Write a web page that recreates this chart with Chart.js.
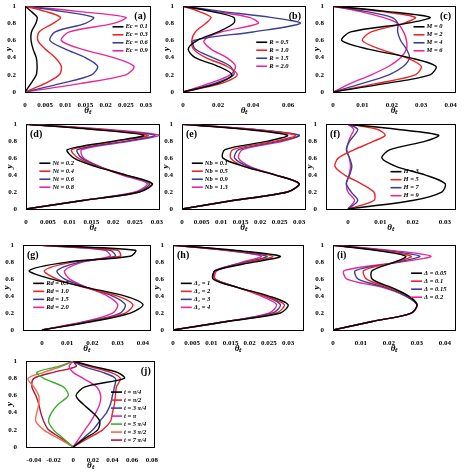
<!DOCTYPE html>
<html>
<head>
<meta charset="utf-8">
<script src="https://cdn.jsdelivr.net/npm/chart.js@4.4.0/dist/chart.umd.min.js"></script>
<style>
  body { margin: 0; background: #fff; }
  #wrap { position: relative; width: 474px; height: 474px; }
  .p { position: absolute; }
</style>
</head>
<body>
<div id="wrap"></div>
<script>
// shared y levels of every profile
const yLevels = [0, 0.1, 0.2, 0.3, 0.4, 0.5, 0.6, 0.7, 0.8, 0.87, 0.94, 1];
const col4 = ['#000000', '#e8262a', '#3b3f94', '#e8279a'];
const col7 = ['#000000', '#e8262a', '#3b3f94', '#e8279a', '#3dae2b', '#f46a4e', '#b0163c'];

// (a) Ec
const ecLabels = ['Ec = 0.1', 'Ec = 0.3', 'Ec = 0.6', 'Ec = 0.9'];
const ecVals = [
  [0, 0.0015, 0.0028, 0.003, 0.0028, 0.002, 0.0015, 0.0016, 0.0027, 0.003, 0.0015, 0],
  [0, 0.005, 0.0085, 0.009, 0.0075, 0.005, 0.0032, 0.0035, 0.007, 0.0088, 0.005, 0],
  [0, 0.009, 0.0165, 0.018, 0.015, 0.010, 0.0062, 0.0075, 0.015, 0.017, 0.009, 0],
  [0, 0.014, 0.025, 0.027, 0.022, 0.014, 0.009, 0.011, 0.022, 0.025, 0.013, 0]
];
// (b) R
const rLabels = ['R = 0.5', 'R = 1.0', 'R = 1.5', 'R = 2.0'];
const rVals = [
  [0, 0.02, 0.028, 0.02, 0.007, 0.003, 0.008, 0.02, 0.029, 0.029, 0.016, 0],
  [0, 0.022, 0.031, 0.025, 0.013, 0.006, 0.005, 0.007, 0.013, 0.016, 0.009, 0],
  [0, 0.018, 0.029, 0.027, 0.017, 0.007, 0.006, 0.04, 0.067, 0.05, 0.022, 0],
  [0, 0.015, 0.027, 0.03, 0.025, 0.016, 0.012, 0.022, 0.043, 0.038, 0.018, 0]
];
// (c) M
const mLabels = ['M = 0', 'M = 2', 'M = 4', 'M = 6'];
const mVals = [
  [0, 0.018, 0.033, 0.035, 0.026, 0.012, 0.003, 0.006, 0.025, 0.033, 0.018, 0],
  [0, 0.015, 0.028, 0.03, 0.025, 0.016, 0.01, 0.013, 0.024, 0.028, 0.016, 0],
  [0, 0.01, 0.019, 0.024, 0.026, 0.025, 0.023, 0.022, 0.022, 0.02, 0.011, 0],
  [0, 0.006, 0.013, 0.019, 0.023, 0.025, 0.025, 0.024, 0.022, 0.017, 0.009, 0]
];
// (d) Nt
const ntLabels = ['Nt = 0.2', 'Nt = 0.4', 'Nt = 0.6', 'Nt = 0.8'];
const ntVals = [
  [0, 0.013, 0.026, 0.029, 0.023, 0.016, 0.011, 0.0095, 0.02, 0.027, 0.015, 0],
  [0, 0.013, 0.026, 0.0288, 0.023, 0.0165, 0.012, 0.0105, 0.021, 0.028, 0.016, 0],
  [0, 0.013, 0.0255, 0.0283, 0.0225, 0.0168, 0.0128, 0.0118, 0.023, 0.0295, 0.017, 0],
  [0, 0.013, 0.025, 0.0278, 0.022, 0.017, 0.0132, 0.0128, 0.024, 0.0305, 0.018, 0]
];
// (e) Nb
const nbLabels = ['Nb = 0.1', 'Nb = 0.5', 'Nb = 0.9', 'Nb = 1.3'];
const nbVals = [
  [0, 0.013, 0.027, 0.03, 0.024, 0.016, 0.0105, 0.011, 0.022, 0.027, 0.016, 0],
  [0, 0.013, 0.027, 0.03, 0.024, 0.016, 0.0125, 0.013, 0.024, 0.029, 0.017, 0],
  [0, 0.013, 0.027, 0.03, 0.024, 0.017, 0.0135, 0.0145, 0.025, 0.03, 0.018, 0],
  [0, 0.013, 0.027, 0.03, 0.024, 0.0175, 0.0145, 0.0155, 0.026, 0.03, 0.018, 0]
];
// (f) H
const hLabels = ['H = 3', 'H = 5', 'H = 7', 'H = 9'];
const hVals = [
  [0, 0.02, 0.029, 0.03, 0.024, 0.015, 0.0105, 0.013, 0.024, 0.028, 0.015, 0],
  [0, 0.008, 0.008, 0.004, -0.001, -0.004, -0.003, 0.002, 0.008, 0.0115, 0.009, 0],
  [0, 0.003, 0.001, -0.0005, 0.0005, 0.0012, 0.0005, -0.0005, 0.0005, 0.002, 0.003, 0],
  [0, 0.002, 0, -0.0005, 0.0003, 0.0008, 0.0004, -0.0004, 0.0002, 0.001, 0.0018, 0]
];
// (g) Rd
const rdLabels = ['Rd = 0.5', 'Rd = 1.0', 'Rd = 1.5', 'Rd = 2.0'];
const rdVals = [
  [0, 0.02, 0.035, 0.04, 0.033, 0.018, 0.004, -0.005, 0.01, 0.035, 0.037, 0],
  [0, 0.019, 0.033, 0.036, 0.03, 0.017, 0.006, 0.001, 0.012, 0.031, 0.03, 0],
  [0, 0.018, 0.031, 0.033, 0.028, 0.018, 0.009, 0.006, 0.015, 0.029, 0.027, 0],
  [0, 0.017, 0.028, 0.03, 0.026, 0.018, 0.011, 0.009, 0.016, 0.027, 0.025, 0]
];
// (h) Delta_1
const d1Labels = ['Δ₁ = 1', 'Δ₁ = 2', 'Δ₁ = 3', 'Δ₁ = 4'];
const d1Vals = [
  [0, 0.014, 0.028, 0.03, 0.025, 0.017, 0.0105, 0.011, 0.021, 0.028, 0.016, 0],
  [0, 0.014, 0.027, 0.029, 0.024, 0.017, 0.011, 0.011, 0.02, 0.026, 0.015, 0],
  [0, 0.014, 0.026, 0.028, 0.024, 0.017, 0.011, 0.011, 0.019, 0.0245, 0.014, 0],
  [0, 0.014, 0.025, 0.027, 0.023, 0.017, 0.011, 0.0115, 0.018, 0.023, 0.0135, 0]
];
// (i) Delta
const dLabels = ['Δ = 0.05', 'Δ = 0.1', 'Δ = 0.15', 'Δ = 0.2'];
const dVals = [
  [0, 0.014, 0.028, 0.03, 0.027, 0.021, 0.014, 0.014, 0.022, 0.026, 0.015, 0],
  [0, 0.014, 0.028, 0.03, 0.027, 0.02, 0.012, 0.011, 0.022, 0.028, 0.016, 0],
  [0, 0.014, 0.028, 0.03, 0.026, 0.019, 0.009, 0.008, 0.023, 0.031, 0.018, 0],
  [0, 0.014, 0.028, 0.03, 0.026, 0.018, 0.005, 0.004, 0.024, 0.035, 0.02, 0]
];
// (j) t
const tLabels = ['t = π/4', 't = π/2', 't = 3 π/4', 't = π', 't = 5 π/4', 't = 3 π/2', 't = 7 π/4'];
const tVals = [
  [0, 0.012, 0.025, 0.027, 0.02, 0.01, 0.003, 0.012, 0.052, 0.045, 0.02, 0],
  [0, 0.015, 0.03, 0.038, 0.04, 0.042, 0.043, 0.044, 0.048, 0.038, 0.016, 0],
  [0, 0.01, 0.02, 0.027, 0.034, 0.038, 0.04, 0.042, 0.043, 0.03, 0.01, 0],
  [0, 0.006, 0.012, 0.018, 0.023, 0.027, 0.028, 0.024, 0.01, 0, -0.004, 0],
  [0, -0.01, -0.02, -0.025, -0.022, -0.015, -0.005, -0.01, -0.03, -0.037, -0.015, 0],
  [0, -0.015, -0.03, -0.038, -0.037, -0.035, -0.035, -0.04, -0.046, -0.03, -0.012, 0],
  [0, -0.012, -0.025, -0.03, -0.033, -0.035, -0.038, -0.042, -0.04, -0.02, 0.003, 0]
];

// panel layout: plot-area box, x range, legend spot (fraction of plot area)
const panels = [
  { tag: '(a)', labels: ecLabels, vals: ecVals, box: [25, 5, 150, 92], x: [0, 0.031, 0.005], leg: [0.7, 0.24], tagPos: 'r' },
  { tag: '(b)', labels: rLabels, vals: rVals, box: [183, 5, 305, 92], x: [0, 0.0697, 0.02], leg: [0.6, 0.42], tagPos: 'r' },
  { tag: '(c)', labels: mLabels, vals: mVals, box: [333, 5, 455, 92], x: [0, 0.0415, 0.01], leg: [0.66, 0.24], tagPos: 'r' },
  { tag: '(d)', labels: ntLabels, vals: ntVals, box: [26, 123, 160, 209], x: [0, 0.0307, 0.005], leg: [0.1, 0.46], tagPos: 'l' },
  { tag: '(e)', labels: nbLabels, vals: nbVals, box: [182, 123, 305, 209], x: [0, 0.0315, 0.005], leg: [0.08, 0.46], tagPos: 'l' },
  { tag: '(f)', labels: hLabels, vals: hVals, box: [326, 123, 455, 209], x: [-0.0068, 0.0331, 0.01], leg: [0.5, 0.56], tagPos: 'l' },
  { tag: '(g)', labels: rdLabels, vals: rdVals, box: [23, 244, 150, 330], x: [-0.0075, 0.0428, 0.01], leg: [0.08, 0.45], tagPos: 'l' },
  { tag: '(h)', labels: d1Labels, vals: d1Vals, box: [173, 244, 303, 330], x: [0, 0.0339, 0.005], leg: [0.06, 0.45], tagPos: 'l' },
  { tag: '(i)', labels: dLabels, vals: dVals, box: [333, 244, 455, 330], x: [0, 0.0436, 0.01], leg: [0.64, 0.33], tagPos: 'l' },
  { tag: '(j)', labels: tLabels, vals: tVals, box: [26, 360, 155, 447], x: [-0.048, 0.083, 0.02], leg: [0.66, 0.36], tagPos: 'r' }
];

const AXW = 22, AXH = 24, PAD = 4;
const serif = 'Liberation Serif';

const overlay = {
  id: 'overlay',
  afterDraw(chart, args, opts) {
    const { ctx, chartArea: a } = chart;
    const w = a.right - a.left, h = a.bottom - a.top;
    ctx.save();
    ctx.font = 'bold 10px "' + serif + '"';
    ctx.fillStyle = '#000';
    ctx.textBaseline = 'top';
    if (opts.tagPos === 'r') { ctx.textAlign = 'right'; ctx.fillText(opts.tag, a.right - 4, a.top + 5); }
    else { ctx.textAlign = 'left'; ctx.fillText(opts.tag, a.left + 4, a.top + 5); }
    // legend
    const lx = a.left + opts.leg[0] * w, ly = a.top + opts.leg[1] * h;
    ctx.font = 'italic bold 6.5px "' + serif + '"';
    ctx.textAlign = 'left';
    ctx.textBaseline = 'middle';
    chart.data.datasets.forEach((ds, i) => {
      const yy = ly + i * 8;
      ctx.strokeStyle = ds.borderColor;
      ctx.lineWidth = 1.6;
      ctx.beginPath(); ctx.moveTo(lx, yy); ctx.lineTo(lx + 11, yy); ctx.stroke();
      ctx.fillStyle = '#000';
      ctx.fillText(ds.label, lx + 13, yy);
    });
    ctx.restore();
  }
};

function fmt(v) { return String(+v.toFixed(4)); }

const wrap = document.getElementById('wrap');
panels.forEach(p => {
  const [L, T, R, B] = p.box;
  const div = document.createElement('div');
  div.className = 'p';
  const cw = (R - L) + AXW + PAD, chh = (B - T) + AXH + PAD;
  div.style.left = (L - AXW) + 'px';
  div.style.top = (T - PAD) + 'px';
  div.style.width = cw + 'px';
  div.style.height = chh + 'px';
  const cv = document.createElement('canvas');
  div.appendChild(cv);
  wrap.appendChild(div);
  const colors = p.vals.length > 4 ? col7 : col4;
  new Chart(cv, {
    type: 'scatter',
    data: {
      datasets: p.vals.map((vs, i) => ({
        label: p.labels[i],
        data: vs.map((x, k) => ({ x: x, y: yLevels[k] })),
        showLine: true,
        borderColor: colors[i],
        borderWidth: 1.4,
        pointRadius: 0,
        tension: 0.3
      }))
    },
    options: {
      responsive: true,
      maintainAspectRatio: false,
      animation: false,
      layout: { padding: { top: PAD, right: PAD, left: 0, bottom: 0 } },
      plugins: { legend: { display: false }, tooltip: { enabled: false },
        overlay: { tag: p.tag, leg: p.leg, tagPos: p.tagPos } },
      scales: {
        x: {
          min: p.x[0], max: p.x[1],
          afterFit(s) { s.height = AXH; },
          grid: { display: false, drawTicks: true },
          border: { color: '#000', width: 1 },
          ticks: { stepSize: p.x[2], includeBounds: false, maxRotation: 0, autoSkip: false, padding: 1,
            color: '#000', font: { family: serif, size: 7, weight: 'bold' }, callback: fmt },
          title: { display: true, text: 'θₜ', padding: 0, color: '#000',
            font: { family: serif, size: 9, style: 'italic', weight: 'bold' } }
        },
        x2: {
          position: 'top', min: p.x[0], max: p.x[1], afterFit(s) { s.height = 0; },
          grid: { display: false }, ticks: { display: false }, border: { color: '#000' }
        },
        y: {
          min: 0, max: 1,
          afterFit(s) { s.width = AXW; },
          grid: { display: false },
          border: { color: '#000', width: 1 },
          ticks: { stepSize: 0.2, padding: 1, color: '#000', font: { family: serif, size: 7, weight: 'bold' }, callback: fmt },
          title: { display: true, text: 'y', padding: 0, color: '#000',
            font: { family: serif, size: 9, style: 'italic', weight: 'bold' } }
        },
        y2: {
          position: 'right', min: 0, max: 1, afterFit(s) { s.width = 0; },
          grid: { display: false }, ticks: { display: false }, border: { color: '#000' }
        }
      }
    },
    plugins: [overlay]
  });
});
</script>
</body>
</html>
